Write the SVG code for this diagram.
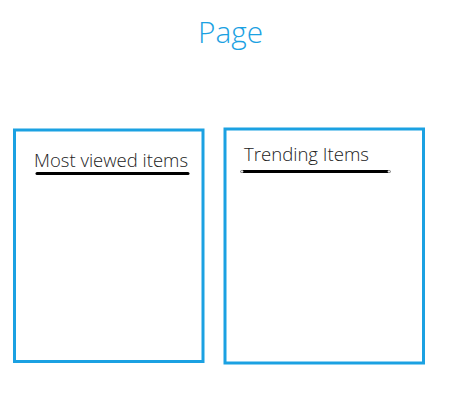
<svg xmlns="http://www.w3.org/2000/svg" width="474" height="414" viewBox="0 0 474 414">
<style>
.box{fill:#fff;stroke:#1ba1e2;stroke-width:3}
.lbl{font-family:"Open Sans","Liberation Sans",sans-serif;font-weight:300;font-size:19px;fill:#222}
.ul{stroke:#000;stroke-width:3;stroke-linecap:round}
</style>
<rect width="474" height="414" fill="#fff"/>
<g id="title"><text x="230.5" y="43" text-anchor="middle" font-family="'Open Sans','Liberation Sans',sans-serif" font-weight="300" font-size="29" fill="#1ba1e2" textLength="65" lengthAdjust="spacingAndGlyphs">Page</text></g>
<g id="most-viewed">
<rect class="box" x="14.5" y="130" width="188.5" height="231.5"/>
<text class="lbl" x="34" y="167" textLength="154" lengthAdjust="spacingAndGlyphs">Most viewed items</text>
<line class="ul" x1="37" y1="173.5" x2="188" y2="173.5"/>
</g>
<g id="trending">
<rect class="box" x="225" y="129" width="198.5" height="234"/>
<text class="lbl" x="244" y="161" textLength="125" lengthAdjust="spacingAndGlyphs">Trending Items</text>
<line class="ul" x1="242" y1="171.5" x2="389" y2="171.5"/>
<circle cx="242" cy="171.5" r="1.2" fill="#fff" stroke="#888" stroke-width="0.6"/>
<circle cx="389" cy="171.5" r="1.2" fill="#fff" stroke="#888" stroke-width="0.6"/>
</g>
<g id="connectors"></g>
</svg>
